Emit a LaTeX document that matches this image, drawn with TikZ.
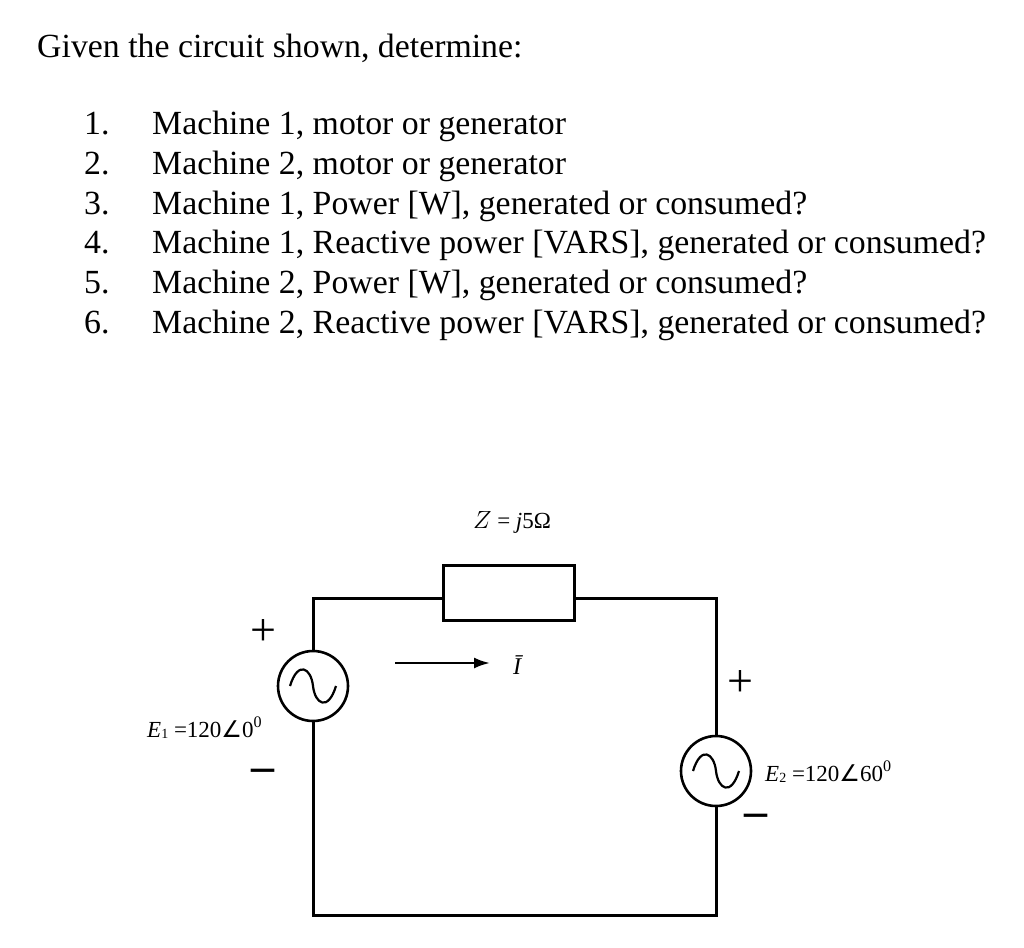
\documentclass[tikz,border=0pt]{standalone}
\usepackage{fontspec}
\usetikzlibrary{arrows.meta}
\setmainfont{Liberation Serif}
\newfontfamily\symfont{DejaVu Sans}
\newcommand{\ang}{{\symfont ∠}}
\begin{document}
\begin{tikzpicture}[x=1pt,y=-1pt,
  wire/.style={line width=3pt},
  src/.style={circle,draw,line width=2.6pt,minimum size=70pt,inner sep=0pt},
  txt/.style={font=\fontsize{33.8}{38}\selectfont,anchor=base west,inner sep=0pt},
  lab/.style={font=\fontsize{23}{26}\selectfont,inner sep=0pt}]
\useasboundingbox (0,0) rectangle (1024,947);
\fill[white] (0,0) rectangle (1024,947);
\node[txt] (t0) at (37,58) {Given the circuit shown, determine:};
\foreach \n/\s [count=\i] in {1/{Machine 1, motor or generator},
 2/{Machine 2, motor or generator},
 3/{Machine 1, Power [W], generated or consumed?},
 4/{Machine 1, Reactive power [VARS], generated or consumed?},
 5/{Machine 2, Power [W], generated or consumed?},
 6/{Machine 2, Reactive power [VARS], generated or consumed?}}{
 \node[txt] (n\i) at (84,{135+(\i-1)*39.6}) {\n.};
 \node[txt] (s\i) at (152,{135+(\i-1)*39.6}) {\s};
}
% circuit
\node[src] (e1) at (313,686) {};
\node[src] (e2) at (716,771) {};
\node[draw,line width=2.6pt,minimum width=131pt,minimum height=55pt,inner sep=0pt] (z) at (509,593) {};
\coordinate (tl) at (313,598);
\coordinate (tr) at (716,598);
\coordinate (bl) at (313,915);
\coordinate (br) at (716,915);
\draw[wire] (e1.north) -- (tl) -- (tl-|z.west);
\draw[wire] (tr-|z.east) -- (tr) -- (e2.north);
\draw[wire] (e1.south) -- (bl) -- (br) -- (e2.south);
\foreach \c in {e1,e2}{
 \draw[line width=2.2pt] ([xshift=-23pt]\c.center) .. controls ([xshift=-15pt,yshift=26pt]\c.center) and ([xshift=-2pt,yshift=18pt]\c.center) .. (\c.center)
   .. controls ([xshift=2pt,yshift=-18pt]\c.center) and ([xshift=15pt,yshift=-26pt]\c.center) .. ([xshift=23pt]\c.center);}
\node[lab] (zl) at (512,522) {$Z$ = \textit{j}5Ω};
\coordinate (a1) at (395,663);
\coordinate (a2) at (490,663);
\draw[line width=2.4pt,-{Latex[length=16pt,width=11pt]}] (a1) -- (a2);
\node[lab,font=\fontsize{24}{26}\selectfont\itshape] (il) at (517,665) {\={I}};
\node[lab,font=\fontsize{46}{46}\selectfont] (p1) at (263,632) {+};
\node[lab,font=\fontsize{46}{46}\selectfont] (m1) at (263,775) {\textbf{–}};
\node[lab,font=\fontsize{46}{46}\selectfont] (p2) at (740,683) {+};
\node[lab,font=\fontsize{46}{46}\selectfont] (m2) at (756,820) {\textbf{–}};
\node[lab,anchor=base west] (e1l) at (147,737) {\textit{E}\raisebox{-1pt}{\fontsize{14}{14}\selectfont 1} =120\ang0\textsuperscript{0}};
\node[lab,anchor=base west] (e2l) at (765,781) {\textit{E}\raisebox{-1pt}{\fontsize{14}{14}\selectfont 2} =120\ang60\textsuperscript{0}};
\end{tikzpicture}
\end{document}
